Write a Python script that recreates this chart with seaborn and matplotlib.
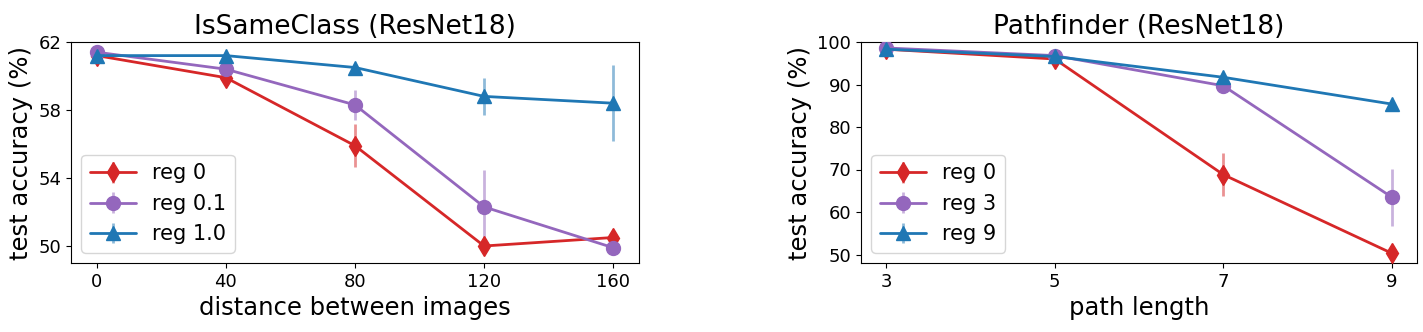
import matplotlib
matplotlib.use("Agg")
import matplotlib.pyplot as plt
import seaborn as sns
import numpy as np
from matplotlib.colors import to_rgba

# ---- data ----
dist = [0, 40, 80, 120, 160]
same_reg0 = [61.2, 59.9, 55.9, 50.0, 50.5]
same_reg0_err = [0.4, 0.3, 1.25, 0.2, 0.4]
same_reg01 = [61.4, 60.4, 58.3, 52.3, 49.9]
same_reg01_err = [0.4, 0.3, 0.9, 2.2, 0.3]
same_reg1 = [61.2, 61.2, 60.5, 58.8, 58.4]
same_reg1_err = [0.3, 0.2, 0.2, 1.1, 2.25]
same_labels = ["reg 0", "reg 0.1", "reg 1.0"]

path_len = [3, 5, 7, 9]
path_reg0 = [98.3, 96.0, 68.8, 50.3]
path_reg0_err = [0.8, 0.6, 5.0, 1.5]
path_reg3 = [98.6, 96.8, 89.7, 63.5]
path_reg3_err = [0.5, 0.4, 1.5, 6.7]
path_reg9 = [98.3, 96.6, 91.7, 85.4]
path_reg9_err = [0.4, 0.3, 0.6, 0.5]
path_labels = ["reg 0", "reg 3", "reg 9"]

colors = ["#d62728", "#9467bd", "#1f77b4"]
markers = ["d", "o", "^"]

sns.set_style("ticks", rc={"text.color": "black", "axes.labelcolor": "black",
                           "xtick.color": "black", "ytick.color": "black",
                           "axes.edgecolor": "black",
                           "xtick.major.size": 4, "ytick.major.size": 4})
plt.rcParams["font.family"] = ["DejaVu Sans"]

fig = plt.figure(figsize=(14.23, 3.32), dpi=100)
ax1 = fig.add_axes([71 / 1423, 69 / 332, 568 / 1423, 221 / 332])
ax2 = fig.add_axes([861 / 1423, 69 / 332, 556 / 1423, 221 / 332])


def draw(ax, x, ys, errs, labels):
    handles = []
    for y, e, c, m, lab in zip(ys, errs, colors, markers, labels):
        eb = ax.errorbar(x, y, yerr=e, fmt="none", ecolor=to_rgba(c, 0.5),
                         elinewidth=2, zorder=2)
        sns.lineplot(x=x, y=y, ax=ax, color=c, marker=m, markersize=10,
                     markeredgecolor=c, markeredgewidth=1, linewidth=2,
                     legend=False, zorder=3)
        line = ax.get_lines()[-1]
        handles.append((line, eb))
    ax.legend(handles, labels, loc="lower left", fontsize=15,
              handlelength=2.2)


draw(ax1, dist, [same_reg0, same_reg01, same_reg1],
     [same_reg0_err, same_reg01_err, same_reg1_err], same_labels)
ax1.set_xlim(-8, 168)
ax1.set_ylim(49, 62)
ax1.set_xticks(dist)
ax1.set_yticks([50, 54, 58, 62])
ax1.set_title("IsSameClass (ResNet18)", fontsize=19)
ax1.set_xlabel("distance between images", fontsize=17.5)
ax1.set_ylabel("test accuracy (%)", fontsize=17.5)

draw(ax2, path_len, [path_reg0, path_reg3, path_reg9],
     [path_reg0_err, path_reg3_err, path_reg9_err], path_labels)
ax2.set_xlim(2.7, 9.3)
ax2.set_ylim(48, 100)
ax2.set_xticks(path_len)
ax2.set_yticks([50, 60, 70, 80, 90, 100])
ax2.set_title("Pathfinder (ResNet18)", fontsize=19)
ax2.set_xlabel("path length", fontsize=17.5)
ax2.set_ylabel("test accuracy (%)", fontsize=17.5)

for ax in (ax1, ax2):
    ax.tick_params(labelsize=13)
    for s in ax.spines.values():
        s.set_visible(True)
        s.set_color("black")

fig.savefig("out.png", dpi=100)
